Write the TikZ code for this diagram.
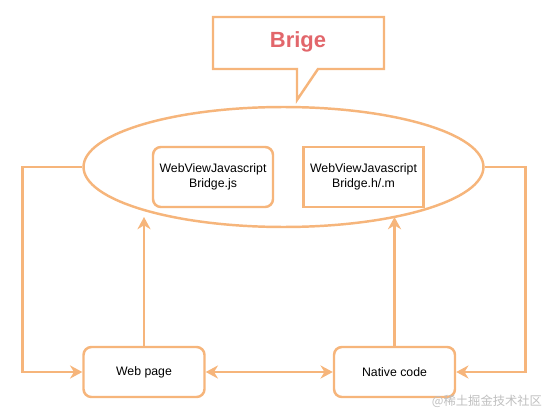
\documentclass[tikz,border=0pt]{standalone}
\usepackage{fontspec}
\setmainfont{Liberation Sans}
\newfontfamily\cjkfont{Noto Sans CJK SC}
\usetikzlibrary{arrows.meta, shapes.geometric}
\definecolor{lineorange}{HTML}{F6B57B}
\definecolor{brigered}{HTML}{E2666B}

\begin{document}
\begin{tikzpicture}[x=0.02cm, y=-0.02cm, font=\fontsize{7}{8.5}\selectfont, line width=1.4pt,
    tip/.style={-{Stealth[length=7pt, width=7.5pt]}},
    roundbox/.style={draw=lineorange, fill=white, rounded corners=4.5pt, minimum width=2.42cm, minimum height=1cm, align=center, inner sep=0pt}]
        \useasboundingbox (0,0) rectangle (550,415);

        % callout
        \draw[lineorange, fill=white] (213,17) -- (384,17) -- (384,69) -- (318,69) -- (297,100) -- (297,69) -- (213,69) -- cycle;
        \node(brige) at (298,42) {\fontsize{12.5}{14}\selectfont\bfseries\color{brigered}Brige};

        % ellipse
        \node(bridge)[draw=lineorange, fill=white, ellipse, minimum width=8cm, minimum height=2.4cm, inner sep=0pt] at (283.5,167) {};

        \node(js)[roundbox, minimum width=2.4cm, minimum height=1.2cm] at (213,177) {WebViewJavascript\\Bridge.js};
        \node(objc)[draw=lineorange, fill=white, minimum width=2.4cm, minimum height=1.2cm, align=center, inner sep=0pt] at (363.5,177) {WebViewJavascript\\Bridge.h/.m};

        \node(web)[roundbox] at (144,372) {Web page};
        \node(native)[roundbox] at (394.5,372) {Native code};

        \coordinate(webin) at (144,217);
        \coordinate(nativein) at (394.5,217);

        \draw[lineorange, tip] (bridge.west) -- ++(-60,0) |- (web.west);
        \draw[lineorange, tip] (bridge.east) -- ++(41,0) |- (native.east);
        \draw[lineorange, tip] (web.north) -- (webin);
        \draw[lineorange, tip] (native.north) -- (nativein);
        \draw[lineorange, {Stealth[length=7pt, width=7.5pt]}-{Stealth[length=7pt, width=7.5pt]}] (web.east) -- (native.east -| native.west);

        \node(mark)[text=black!25] at (487,401) {\cjkfont @稀土掘金技术社区};
\end{tikzpicture}
\end{document}
